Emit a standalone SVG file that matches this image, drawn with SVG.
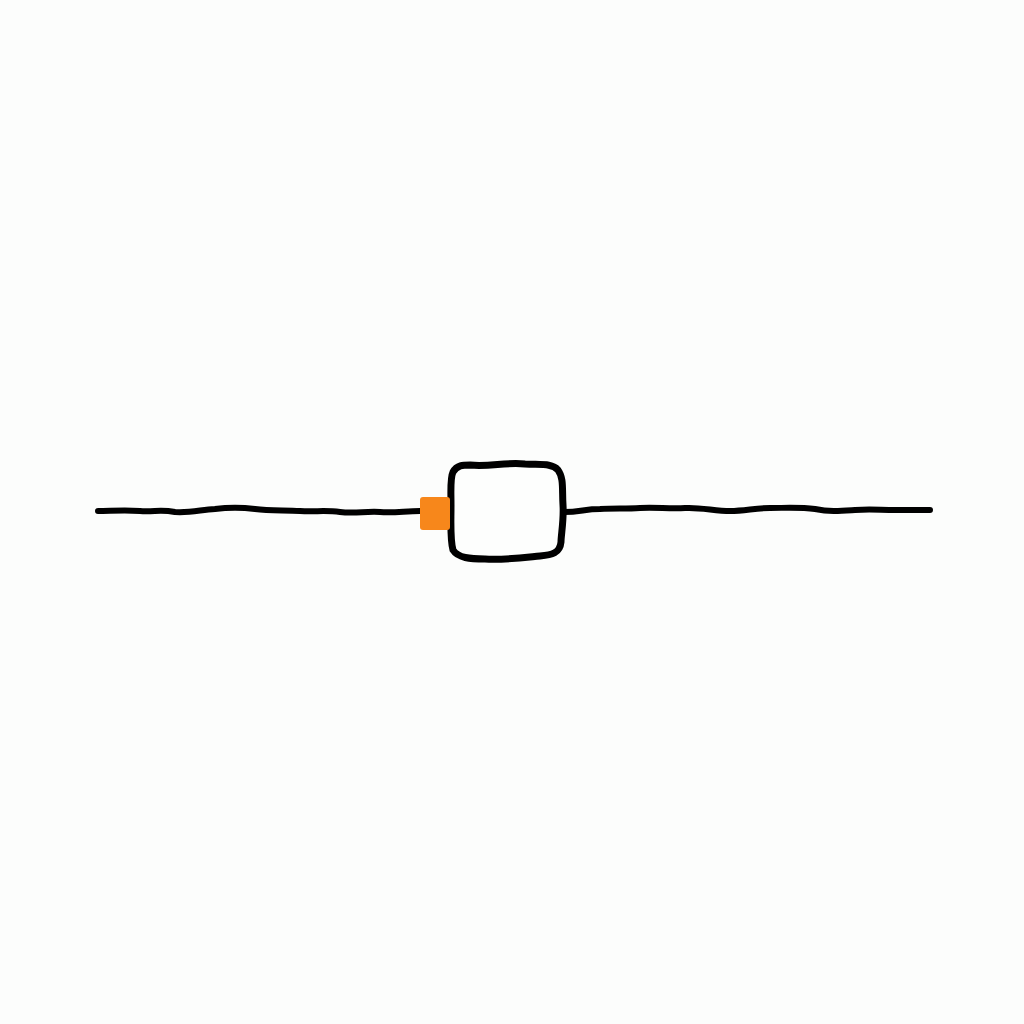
<svg xmlns="http://www.w3.org/2000/svg" width="1024" height="1024" viewBox="0 0 1024 1024">
<style>
.wire{fill:none;stroke:#000;stroke-width:6;stroke-linecap:round;stroke-linejoin:round}
.box{fill:#fdfefd;stroke:#000;stroke-width:7}
.port{fill:#f7871b}
</style>
<rect width="1024" height="1024" fill="#fcfdfc"/>
<g id="connectors">
<path class="wire" d="M98 511 C110 511 125 510 140 511 C155 512 160 509 175 512 C190 513 200 510 215 509 C230 507 240 507 255 509 C270 511 285 510 300 511 C315 512 325 510 340 512 C355 514 365 511 380 512 C395 513 405 511 420 511"/>
<path class="wire" d="M564 512 C580 512 585 509 600 509 C615 508 625 509 640 508 C655 507 670 509 685 508 C700 507 715 511 730 511 C745 511 755 508 770 508 C785 508 800 507 815 509 C830 512 840 511 855 510 C870 509 880 510 895 510 C910 510 920 510 930 510"/>
</g>
<g id="node">
<path class="box" d="M470 465 C490 467 505 462 525 464 C540 465 552 463 558 470 C564 478 562 490 563 505 C564 520 561 535 561 542 C560 553 552 555 540 556 C520 558 505 560 485 559 C470 559 458 558 453 550 C450 540 451 525 451 505 C451 490 450 478 453 472 C457 465 463 465 470 465 Z"/>
</g>
<g id="port">
<rect class="port" x="420" y="497" width="30" height="33" rx="3"/>
</g>
</svg>
